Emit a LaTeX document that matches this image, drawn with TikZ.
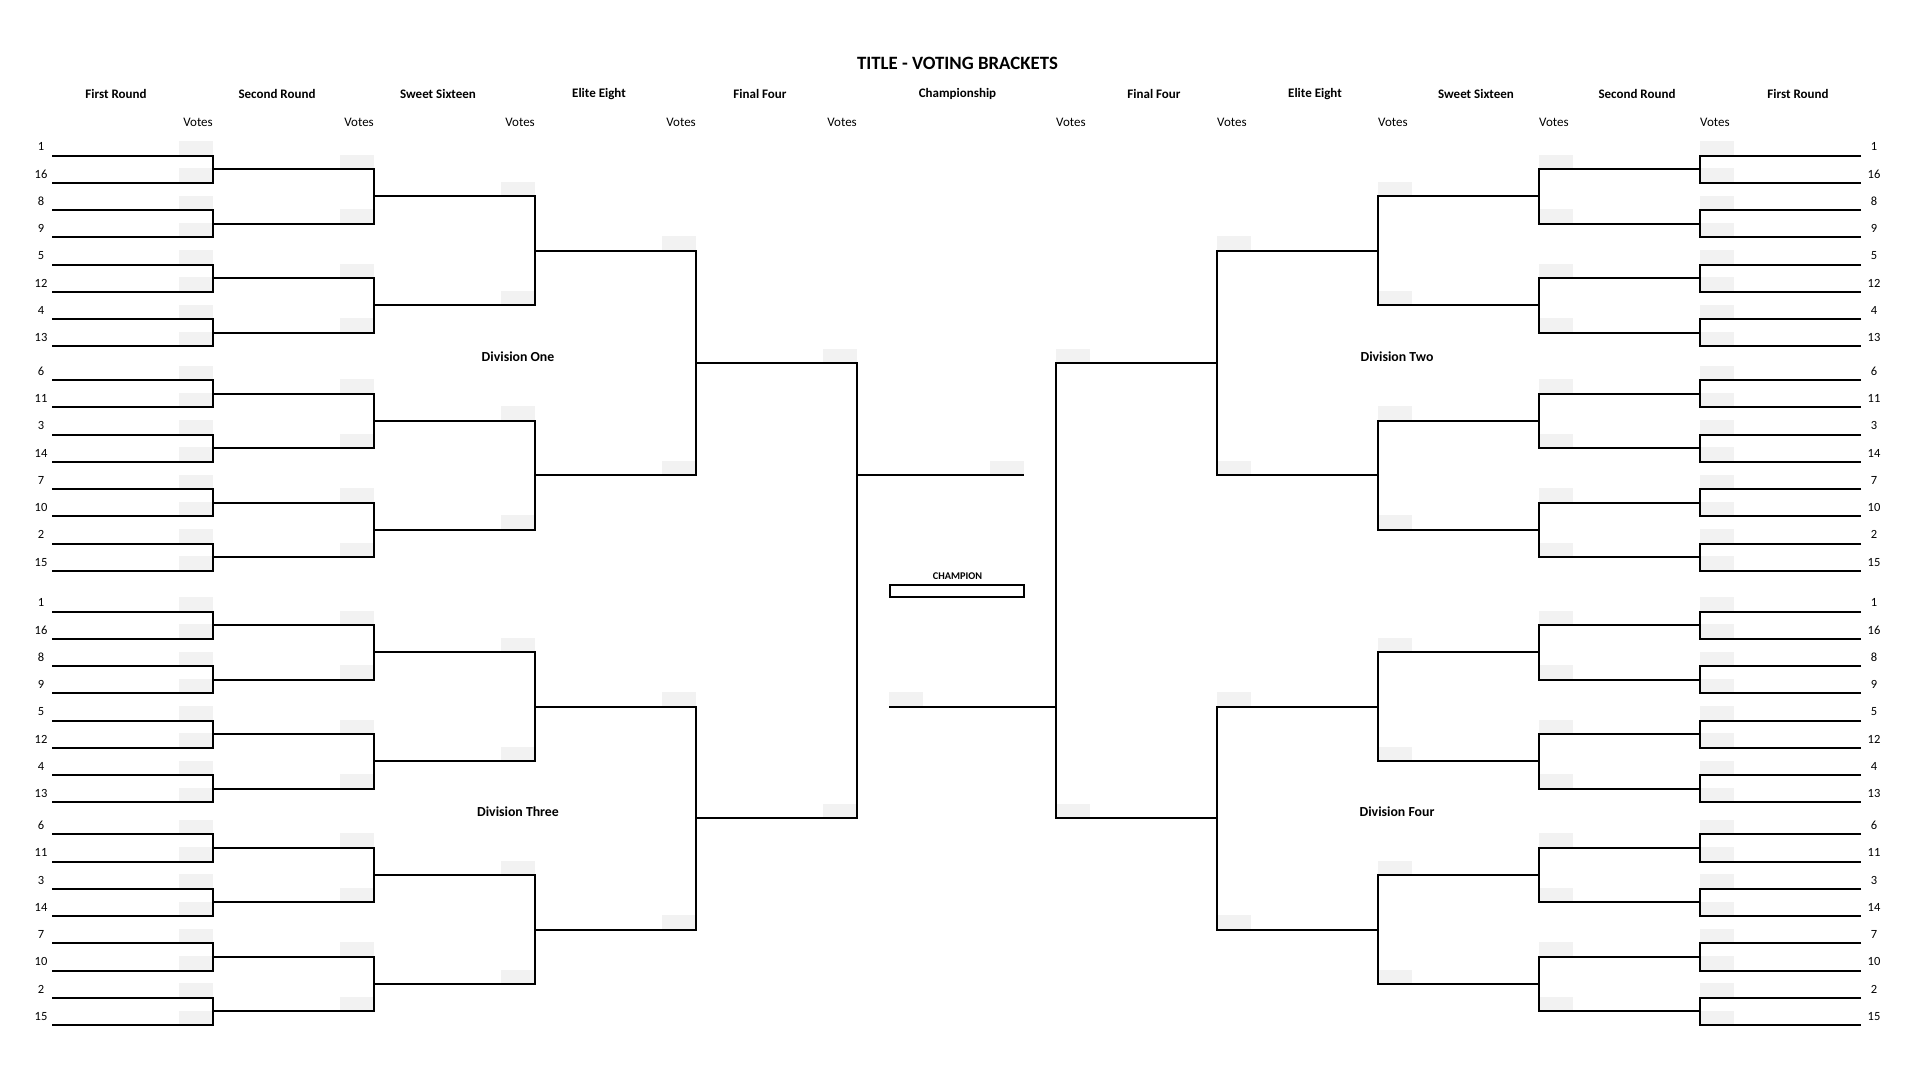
\documentclass[tikz,border=0pt]{standalone}
\usepackage{fontspec}
\setmainfont{Carlito}
\usetikzlibrary{positioning, calc}

\definecolor{votegray}{gray}{0.95}

\tikzset{
  bline/.style={line width=2pt, black},
  votebox/.style={fill=votegray, draw=none, minimum width=34pt,
    minimum height=13.5pt, inner sep=0pt, outer sep=0pt},
  seed/.style={font=\fontsize{12.5}{14}\selectfont, inner sep=0pt},
  roundhead/.style={font=\fontsize{13}{15}\selectfont\bfseries, inner sep=0pt},
  votehead/.style={font=\fontsize{13}{15}\selectfont, inner sep=0pt},
  divhead/.style={font=\fontsize{13.8}{16}\selectfont\bfseries, inner sep=0pt},
}

\begin{document}
\begin{tikzpicture}[x=1pt, y=-1pt]
  \useasboundingbox (0,0) rectangle (1920,1080);
  \def\colw{161}
  \def\rowh{27.25}

  \node[font=\fontsize{18.8}{20}\selectfont\bfseries, inner sep=0pt]
    (title) at (957.5,63) {TITLE - VOTING BRACKETS};
  \foreach \rr/\rname in {0/First Round, 1/Second Round, 2/Sweet Sixteen,
    3/Elite Eight, 4/Final Four}{
    \node[roundhead] (headL\rr) at ({116+\rr*\colw}, 94) {\rname};
    \node[roundhead] (headR\rr) at ({1798-\rr*\colw}, 94) {\rname};
    \node[votehead, anchor=east] (votesL\rr) at ({213+\rr*\colw}, 122) {Votes};
    \node[votehead, anchor=west] (votesR\rr) at ({1700-\rr*\colw}, 122) {Votes};
  }
  \node[roundhead] (headC) at (957.5,94) {Championship};

  \foreach \dv/\xs/\dx/\ya/\yb/\dname/\anch/\lo/\divx in {
    1/52/161/155.5/380/One/south east/-11/518,
    3/52/161/611.5/834.3/Three/south east/-11/518,
    2/1861/-161/155.5/380/Two/south west/13/1397,
    4/1861/-161/611.5/834.3/Four/south west/13/1397%
  }{
    % first round, seeds outside
    \foreach \seed [count=\kk from 0] in {1,16,8,9,5,12,4,13,6,11,3,14,7,10,2,15}{
      \pgfmathsetmacro\yy{\kk<8 ? \ya+\kk*\rowh : \yb+(\kk-8)*\rowh}
      \coordinate (d\dv-r0-s\kk-o) at (\xs,\yy);
      \coordinate (d\dv-r0-s\kk-i) at ({\xs+(\dx)},\yy);
      \node[seed] (seed\dv-\kk) at ($(d\dv-r0-s\kk-o)+(\lo,-8.7)$) {\seed};
    }
    \foreach \rr in {1,...,4}{
      \pgfmathtruncatemacro\pr{\rr-1}
      \pgfmathtruncatemacro\nn{16/2^\rr-1}
      \foreach \sj in {0,...,\nn}{
        \pgfmathtruncatemacro\ia{2*\sj}
        \pgfmathtruncatemacro\ib{2*\sj+1}
        \coordinate (d\dv-r\rr-s\sj-o) at ($(d\dv-r\pr-s\ia-i)!0.5!(d\dv-r\pr-s\ib-i)$);
        \coordinate (d\dv-r\rr-s\sj-i) at ($(d\dv-r\rr-s\sj-o)+(\dx,0)$);
        \node[votebox, anchor=\anch] (vb\dv-\pr-\ia) at ($(d\dv-r\pr-s\ia-i)+(0,-1)$) {};
        \node[votebox, anchor=\anch] (vb\dv-\pr-\ib) at ($(d\dv-r\pr-s\ib-i)+(0,-1)$) {};
        \draw[bline] (d\dv-r\pr-s\ia-o) -- (d\dv-r\pr-s\ia-i)
          -- (d\dv-r\pr-s\ib-i) -- (d\dv-r\pr-s\ib-o);
      }
    }
    \node[votebox, anchor=\anch] (vb\dv-4-0) at ($(d\dv-r4-s0-i)+(0,-1)$) {};
    \node[divhead] (div\dv) at (\divx,{(\ya+\yb)/2+89}) {Division \dname};
  }

  % final four into the championship
  \coordinate (champL-o) at (d1-r4-s0-i |- d1-r3-s1-o);
  \coordinate (champL-i) at ($(champL-o)+(167,0)$);
  \coordinate (champR-o) at (d2-r4-s0-i |- d4-r3-s0-o);
  \coordinate (champR-i) at ($(champR-o)+(-167,0)$);
  \node[votebox, anchor=south east] (vbL) at ($(champL-i)+(0,-1)$) {};
  \node[votebox, anchor=south west] (vbR) at ($(champR-i)+(0,-1)$) {};
  \draw[bline] (d1-r4-s0-o) -- (d1-r4-s0-i) -- (d3-r4-s0-i) -- (d3-r4-s0-o);
  \draw[bline] (d2-r4-s0-o) -- (d2-r4-s0-i) -- (d4-r4-s0-i) -- (d4-r4-s0-o);
  \draw[bline] (champL-o) -- (champL-i);
  \draw[bline] (champR-o) -- (champR-i);

  \node[draw, line width=2pt, minimum width=134pt, minimum height=11.7pt,
    inner sep=0pt] (champ) at (957,591) {};
  \node[font=\fontsize{10.3}{12}\selectfont\bfseries, inner sep=0pt]
    (champlabel) at (957.5,576) {CHAMPION};
\end{tikzpicture}
\end{document}
